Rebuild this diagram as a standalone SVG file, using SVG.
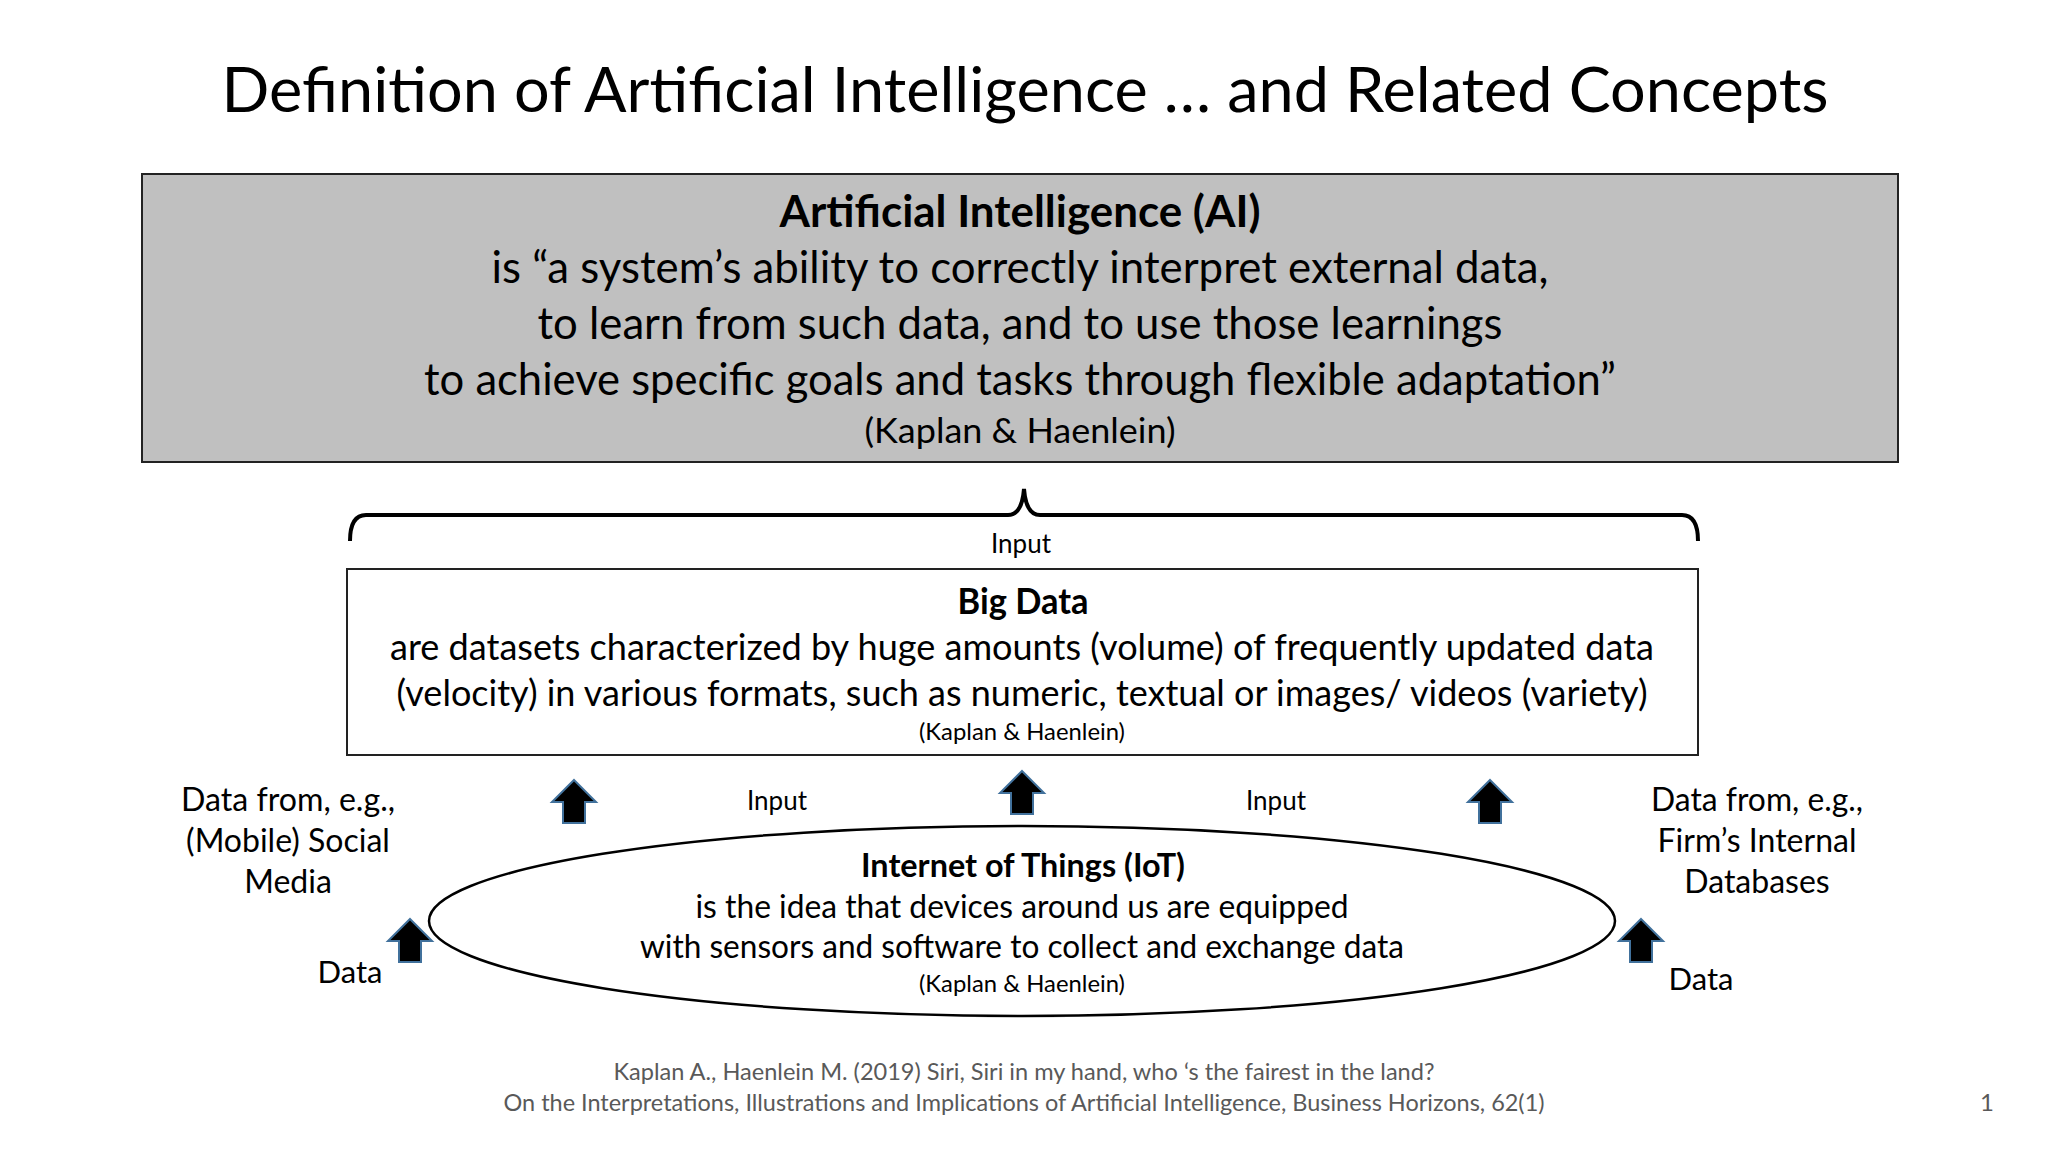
<svg xmlns="http://www.w3.org/2000/svg" width="2048" height="1152" viewBox="0 0 2048 1152">
<style>
text{font-family:Lato,"Open Sans","Noto Sans",sans-serif;fill:#000;text-anchor:middle}
.b{font-weight:bold}
.ft{fill:#595959;font-size:24px}
.arr{fill:#000;stroke:#41719c;stroke-width:2}
</style>
<defs>
<path id="up" class="arr" d="M0,0 L22,22 L11,22 L11,43 L-11,43 L-11,22 L-22,22 Z"/>
</defs>
<rect width="2048" height="1152" fill="#fff"/>
<text x="1025" y="112" font-size="62" textLength="1607" lengthAdjust="spacingAndGlyphs">Definition of Artificial Intelligence … and Related Concepts</text>

<g id="ai">
<rect x="142" y="174" width="1756" height="288" fill="#c0c0c0" stroke="#222" stroke-width="2"/>
<text class="b" x="1020" y="227" font-size="44" textLength="481" lengthAdjust="spacingAndGlyphs">Artificial Intelligence (AI)</text>
<text x="1020" y="283" font-size="44" textLength="1057" lengthAdjust="spacingAndGlyphs">is “a system’s ability to correctly interpret external data,</text>
<text x="1020" y="339" font-size="44" textLength="965" lengthAdjust="spacingAndGlyphs">to learn from such data, and to use those learnings</text>
<text x="1020" y="395" font-size="44" textLength="1192" lengthAdjust="spacingAndGlyphs">to achieve specific goals and tasks through flexible adaptation”</text>
<text x="1020" y="443" font-size="34" textLength="311" lengthAdjust="spacingAndGlyphs">(Kaplan &amp; Haenlein)</text>
</g>

<g id="connectors">
<path d="M350,541 Q350,515 366,515 L1008,515 Q1022,515 1024,489 Q1026,515 1040,515 L1682,515 Q1698,515 1698,541" fill="none" stroke="#000" stroke-width="4"/>
<text x="1021" y="553" font-size="26">Input</text>
<use href="#up" x="574" y="780"/>
<use href="#up" x="1022" y="771"/>
<use href="#up" x="1490" y="780"/>
<use href="#up" x="410" y="919"/>
<use href="#up" x="1641" y="919"/>
<text x="777" y="810" font-size="26">Input</text>
<text x="1276" y="810" font-size="26">Input</text>
<text x="350" y="983" font-size="31">Data</text>
<text x="1701" y="990" font-size="31">Data</text>
</g>

<g id="bigdata">
<rect x="347" y="569" width="1351" height="186" fill="#fff" stroke="#222" stroke-width="2"/>
<text class="b" x="1023" y="614" font-size="36" textLength="131" lengthAdjust="spacingAndGlyphs">Big Data</text>
<text x="1022" y="660" font-size="36" textLength="1264" lengthAdjust="spacingAndGlyphs">are datasets characterized by huge amounts (volume) of frequently updated data</text>
<text x="1022" y="706" font-size="36" textLength="1251" lengthAdjust="spacingAndGlyphs">(velocity) in various formats, such as numeric, textual or images/ videos (variety)</text>
<text x="1022" y="740" font-size="24" textLength="206" lengthAdjust="spacingAndGlyphs">(Kaplan &amp; Haenlein)</text>
</g>

<g id="social">
<text x="288" y="811" font-size="32" textLength="214" lengthAdjust="spacingAndGlyphs">Data from, e.g.,</text>
<text x="288" y="852" font-size="32">(Mobile) Social</text>
<text x="288" y="893" font-size="32">Media</text>
</g>

<g id="firm">
<text x="1757" y="811" font-size="32" textLength="212" lengthAdjust="spacingAndGlyphs">Data from, e.g.,</text>
<text x="1757" y="852" font-size="32">Firm’s Internal</text>
<text x="1757" y="893" font-size="32">Databases</text>
</g>

<g id="iot">
<ellipse cx="1022" cy="921" rx="593" ry="95" fill="#fff" stroke="#000" stroke-width="2.5"/>
<text class="b" x="1023" y="877" font-size="32" textLength="324" lengthAdjust="spacingAndGlyphs">Internet of Things (IoT)</text>
<text x="1022" y="918" font-size="32" textLength="653" lengthAdjust="spacingAndGlyphs">is the idea that devices around us are equipped</text>
<text x="1022" y="958" font-size="32" textLength="764" lengthAdjust="spacingAndGlyphs">with sensors and software to collect and exchange data</text>
<text x="1022" y="992" font-size="24" textLength="206" lengthAdjust="spacingAndGlyphs">(Kaplan &amp; Haenlein)</text>
</g>

<text class="ft" x="1024" y="1080" textLength="821" lengthAdjust="spacingAndGlyphs">Kaplan A., Haenlein M. (2019) Siri, Siri in my hand, who ‘s the fairest in the land?</text>
<text class="ft" x="1024" y="1111" textLength="1041" lengthAdjust="spacingAndGlyphs">On the Interpretations, Illustrations and Implications of Artificial Intelligence, Business Horizons, 62(1)</text>
<text class="ft" x="1987" y="1111">1</text>
</svg>
